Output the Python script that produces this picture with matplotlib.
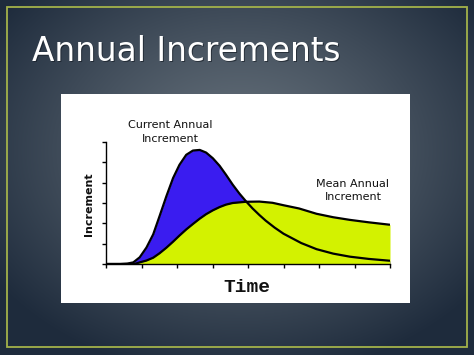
import numpy as np
import matplotlib
matplotlib.use("Agg")
import matplotlib.pyplot as plt
from matplotlib.patches import Rectangle

# ---- data (axis units = tick intervals) ----
cai_time = [0, 0.4, 0.6, 0.77, 0.95, 1.14, 1.33, 1.51, 1.70, 1.89, 2.07, 2.26,
            2.45, 2.64, 2.82, 3.01, 3.20, 3.38, 3.57, 3.76, 3.94, 4.13, 4.32,
            4.5, 4.75, 5.0, 5.5, 5.93, 6.4, 6.87, 7.4, 8.0]
current_annual = [0, 0.0, 0.02, 0.08, 0.33, 0.81, 1.46, 2.36, 3.33, 4.23, 4.88,
                  5.37, 5.58, 5.61, 5.48, 5.20, 4.83, 4.39, 3.90, 3.46, 3.09,
                  2.73, 2.41, 2.13, 1.79, 1.49, 1.03, 0.73, 0.51, 0.36, 0.25, 0.16]
mai_time = [0, 0.8, 0.95, 1.14, 1.33, 1.51, 1.70, 1.89, 2.07, 2.26, 2.45, 2.64,
            2.82, 3.01, 3.20, 3.38, 3.57, 3.94, 4.32, 4.69, 5.0, 5.44, 5.93,
            6.4, 6.87, 7.4, 8.0]
mean_annual = [0, 0.0, 0.08, 0.17, 0.31, 0.53, 0.80, 1.10, 1.40, 1.70, 1.97,
               2.23, 2.45, 2.64, 2.80, 2.92, 3.00, 3.06, 3.07, 3.01, 2.89, 2.73,
               2.47, 2.30, 2.17, 2.05, 1.93]
x_ticks = [0, 1, 2, 3, 4, 5, 6, 7, 8]
y_ticks = [0, 1, 2, 3, 4, 5, 6]
title = "Annual Increments"
cai_label = "Current Annual\nIncrement"
mai_label = "Mean Annual\nIncrement"
x_label = "Time"
y_label = "Increment"

W, H = 474, 355
fig = plt.figure(figsize=(W / 100, H / 100), dpi=100)

# ---- background (radial slate gradient) ----
bg = fig.add_axes([0, 0, 1, 1])
bg.set_xlim(0, W)
bg.set_ylim(H, 0)
bg.axis("off")
yy, xx = np.mgrid[0:H, 0:W]
r = np.sqrt(((xx - 240) / 300.0) ** 2 + ((yy - 150) / 230.0) ** 2)
r = np.clip(r, 0, 1)
c_in = np.array([0x66, 0x71, 0x7b]) / 255.0
c_out = np.array([0x1e, 0x2b, 0x3c]) / 255.0
t = r[..., None] ** 1.2
img = c_in * (1 - t) + c_out * t
bg.imshow(img, extent=[0, W, H, 0], aspect="auto", zorder=0)
bg.add_patch(Rectangle((7, 7), 460, 340, fill=False, edgecolor="#a3b24a", lw=1.3, zorder=2))
# white panel
bg.add_patch(Rectangle((61, 94), 349, 209, facecolor="white", edgecolor="none", zorder=3))
# title with shadow
bg.text(33.5, 62.5, title, fontsize=23.6, color="#111820", alpha=0.6, family="DejaVu Sans",
        va="baseline", ha="left", zorder=4)
bg.text(32, 61, title, fontsize=23.6, color="white", family="DejaVu Sans",
        va="baseline", ha="left", zorder=5)

# ---- chart ----
ax = fig.add_axes([106 / W, 1 - 264 / H, 284 / W, 122 / H])
ax.set_xlim(0, 8)
ax.set_ylim(0, 6)
ax.patch.set_alpha(0)
ax.fill_between(cai_time, 0, current_annual, color="#3a1cf0", lw=0, zorder=1)
ax.fill_between(mai_time, 0, mean_annual, color="#d3f200", lw=0, zorder=2)
ax.plot(mai_time, mean_annual, color="black", lw=1.6, zorder=3, solid_capstyle="butt")
ax.plot(cai_time, current_annual, color="black", lw=1.6, zorder=3, solid_capstyle="butt")
for s in ["top", "right"]:
    ax.spines[s].set_visible(False)
for s in ["left", "bottom"]:
    ax.spines[s].set_color("black")
    ax.spines[s].set_linewidth(1.0)
    ax.spines[s].set_zorder(4)
ax.set_xticks(x_ticks)
ax.set_yticks(y_ticks)
ax.tick_params(axis="both", direction="out", length=3, width=1.0, color="black",
               labelbottom=False, labelleft=False)

bg.text(170, 132, cai_label, fontsize=8, ha="center", va="center", color="#111",
        linespacing=1.45, zorder=6)
bg.text(353, 190.5, mai_label, fontsize=8, ha="center", va="center", color="#111",
        linespacing=1.35, zorder=6)
bg.text(89, 204, y_label, fontsize=8, fontweight="bold", rotation=90, ha="center",
        va="center", color="#111", zorder=6)
bg.text(247, 288, x_label, fontsize=14, fontweight="bold", family="Liberation Mono",
        ha="center", va="center", color="#111", zorder=6)

fig.savefig("out.png", dpi=100)
